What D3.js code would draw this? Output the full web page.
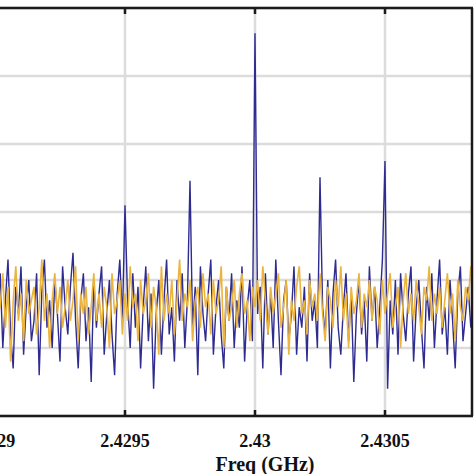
<!DOCTYPE html>
<html><head><meta charset="utf-8">
<script src="https://cdn.jsdelivr.net/npm/d3@7"></script>
<style>body{margin:0;background:#fff}</style></head>
<body><svg id="c" width="474" height="474"></svg>
<script>
const freqStart = 2.42902, freqStep = 0.00001;
const xTicks = [2.429, 2.4295, 2.43, 2.4305];
const xTickLabels = ["2.429", "2.4295", "2.43", "2.4305"];
const yTicks = [-120, -110, -100, -90, -80, -70, -60];
const blue = [
-99,-110,-103,-97,-108,-113,-101,-105,-98,-111,-104,-100,-109,
-106,-99,-114,-102,-97,-107,-103,-110,-100,-105,-112,-98,-104,
-108,-101,-96,-106,-113,-103,-99,-109,-104,-115,-100,-107,-102,
-98,-111,-105,-100,-108,-114,-102,-97,-106,-89,-103,-110,-99,
-107,-101,-113,-104,-98,-109,-102,-116,-105,-100,-111,-103,-97,
-108,-104,-112,-100,-106,-99,-110,-103,-85.4,-107,-101,-114,-98,
-105,-109,-102,-97,-111,-104,-100,-108,-113,-101,-106,-99,-110,
-103,-107,-98,-112,-104,-100,-109,-63.7,-105,-101,-113,-99,-108,
-102,-110,-97,-106,-114,-103,-100,-109,-105,-98,-111,-104,-107,
-101,-112,-99,-106,-103,-110,-84.9,-104,-108,-100,-113,-102,-97,
-107,-111,-104,-99,-109,-102,-115,-105,-100,-108,-103,-112,-98,
-106,-101,-110,-104,-97,-82.5,-116,-103,-108,-100,-111,-99,-105,
-109,-102,-98,-112,-104,-100,-107,-113,-101,-106,-99,-110,-103,
-97,-108,-104,-111,-100,-106,-113,-102,-98,-109,-105,-101,-107];
const yellow = [
-104,-99,-107,-101,-112,-103,-98,-106,-102,-109,-100,-105,-103,
-101,-108,-104,-97,-106,-102,-110,-103,-99,-105,-101,-107,-104,
-100,-106,-103,-98,-109,-102,-105,-101,-108,-104,-99,-106,-102,
-107,-101,-104,-110,-99,-105,-103,-100,-108,-102,-106,-98,-104,
-102,-109,-100,-105,-103,-99,-107,-101,-104,-111,-98,-106,-102,
-105,-100,-108,-103,-97,-106,-102,-104,-100,-109,-103,-101,-107,
-99,-104,-102,-108,-100,-105,-103,-98,-110,-101,-106,-104,-100,
-107,-102,-99,-105,-103,-109,-101,-104,-100,-106,-98,-103,-108,
-101,-105,-102,-99,-107,-104,-100,-111,-103,-106,-101,-98,-105,
-103,-108,-100,-104,-102,-106,-99,-105,-109,-101,-103,-107,-100,
-104,-98,-106,-102,-110,-101,-105,-103,-99,-107,-102,-104,-100,
-106,-101,-103,-108,-100,-105,-102,-99,-107,-104,-101,-110,-103,
-99,-105,-102,-106,-100,-104,-108,-101,-103,-98,-106,-102,-105,
-101,-107,-103,-99,-105,-102,-109,-100,-104,-106,-101,-103,-98];

const svg = d3.select("#c");
const L = -40, R = 472, T = 8, B = 416;
const x = d3.scaleLinear().domain([2.4295, 2.43]).range([125, 255]);
const y = d3.scaleLinear().domain([-120, -60]).range([B, T]);
svg.append("clipPath").attr("id","cp").append("rect").attr("x",L).attr("y",T).attr("width",R-L).attr("height",B-T);
const g = svg.append("g");
g.selectAll(".gy").data(yTicks).join("line").attr("x1",L).attr("x2",R).attr("y1",d=>y(d)).attr("y2",d=>y(d)).attr("stroke","#dcdcdc").attr("stroke-width",2.5);
g.selectAll(".gx").data(xTicks).join("line").attr("x1",d=>x(d)).attr("x2",d=>x(d)).attr("y1",T).attr("y2",B).attr("stroke","#dcdcdc").attr("stroke-width",2.5);
const line = d3.line().x((d,i)=>x(freqStart+i*freqStep)).y(d=>y(d));
const pg = svg.append("g").attr("clip-path","url(#cp)");
pg.append("path").attr("d",line(blue)).attr("fill","none").attr("stroke","#2e2b91").attr("stroke-width",1.4);
pg.append("path").attr("d",line(yellow)).attr("fill","none").attr("stroke","#ebb43e").attr("stroke-width",1.6);
svg.append("line").attr("x1",L).attr("x2",R+1).attr("y1",T).attr("y2",T).attr("stroke","#1a1a1a").attr("stroke-width",2.5);
svg.append("line").attr("x1",L).attr("x2",R+1).attr("y1",B).attr("y2",B).attr("stroke","#1a1a1a").attr("stroke-width",2.5);
svg.append("line").attr("x1",R).attr("x2",R).attr("y1",T).attr("y2",B).attr("stroke","#1a1a1a").attr("stroke-width",2.5);
svg.selectAll(".tk").data(xTicks).join("line").attr("x1",d=>x(d)).attr("x2",d=>x(d)).attr("y1",B-6).attr("y2",B).attr("stroke","#1a1a1a").attr("stroke-width",2.5);
svg.selectAll(".tk2").data(xTicks).join("line").attr("x1",d=>x(d)).attr("x2",d=>x(d)).attr("y1",T).attr("y2",T+6).attr("stroke","#1a1a1a").attr("stroke-width",2.5);
svg.selectAll(".xl").data(xTicks).join("text").attr("x",d=>x(d)).attr("y",447).attr("text-anchor","middle")
  .attr("font-family","Liberation Serif, Times New Roman, serif").attr("font-weight","bold").attr("font-size",18).attr("fill","#111")
  .text((d,i)=>xTickLabels[i]);
svg.append("text").attr("x",265).attr("y",471).attr("text-anchor","middle")
  .attr("font-family","Liberation Serif, Times New Roman, serif").attr("font-weight","bold").attr("font-size",20).attr("fill","#111").text("Freq (GHz)");
</script></body></html>
